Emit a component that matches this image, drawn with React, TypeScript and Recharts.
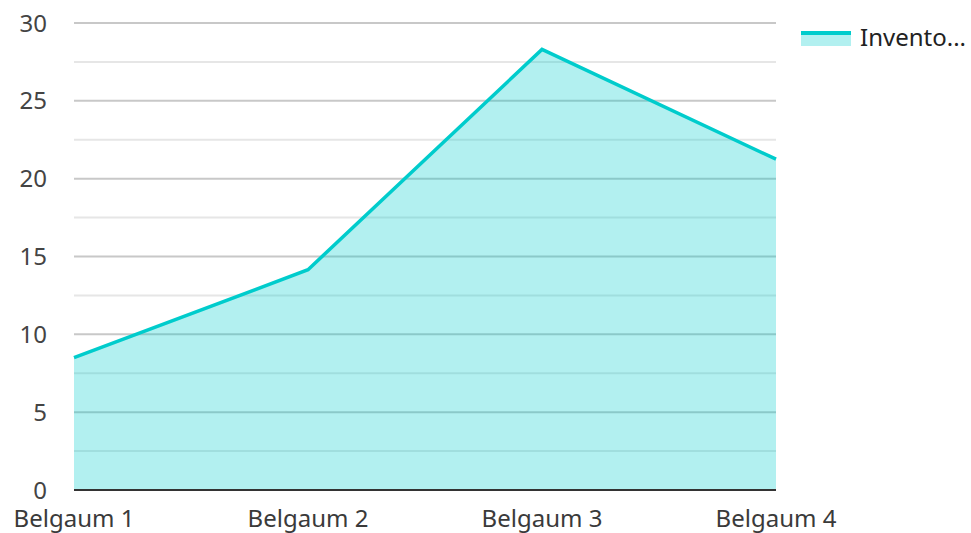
import React from 'react';
import { AreaChart, Area, XAxis, YAxis, CartesianGrid } from 'recharts';

const categories = ['Belgaum 1', 'Belgaum 2', 'Belgaum 3', 'Belgaum 4'];
const inventory = [8.5, 14.15, 28.3, 21.25];
const yTicks = [0, 5, 10, 15, 20, 25, 30];
const minorTicks = [2.5, 7.5, 12.5, 17.5, 22.5, 27.5];
const seriesName = 'Inventory';

const data = categories.map((name, i) => ({ name, value: inventory[i] }));

const font = '"Noto Sans", sans-serif';
const teal = '#00cccc';

export default function App() {
    return (
        <div style={{ position: 'absolute', left: 0, top: 0, width: 971, height: 533, background: '#fff' }}>
            <AreaChart width={971} height={533} data={data} margin={{ top: 23, right: 195, bottom: 0, left: 0 }}>
                <CartesianGrid vertical={false} horizontalValues={minorTicks} stroke="#e6e6e6" strokeWidth={2} />
                <CartesianGrid vertical={false} horizontalValues={yTicks} stroke="#c8c8c8" strokeWidth={2} />
                <XAxis
                    dataKey="name"
                    axisLine={{ stroke: '#333', strokeWidth: 2 }}
                    tickLine={false}
                    tickSize={0}
                    tickMargin={20}
                    height={43}
                    interval={0}
                    tick={{ fontFamily: font, fontSize: 24, fill: '#3a3a3a' }}
                />
                <YAxis
                    domain={[0, 30]}
                    ticks={yTicks}
                    axisLine={false}
                    tickLine={false}
                    tickSize={0}
                    tickMargin={27}
                    width={74}
                    tick={{ fontFamily: font, fontSize: 24, fill: '#444' }}
                />
                <Area
                    type="linear"
                    dataKey="value"
                    name={seriesName}
                    stroke={teal}
                    strokeWidth={3.5}
                    fill={teal}
                    fillOpacity={0.3}
                    isAnimationActive={false}
                />
            </AreaChart>
            <div
                style={{
                    position: 'absolute',
                    left: 801,
                    top: 20,
                    display: 'flex',
                    alignItems: 'center',
                    fontFamily: font,
                    fontSize: 24,
                    color: '#222',
                }}
            >
                <svg width={50} height={20} style={{ marginRight: 9 }}>
                    <rect x={0} y={5} width={50} height={14} fill={teal} fillOpacity={0.3} />
                    <rect x={0} y={4} width={50} height={4} fill={teal} />
                </svg>
                <span>{seriesName.slice(0, 7)}...</span>
            </div>
        </div>
    );
}
